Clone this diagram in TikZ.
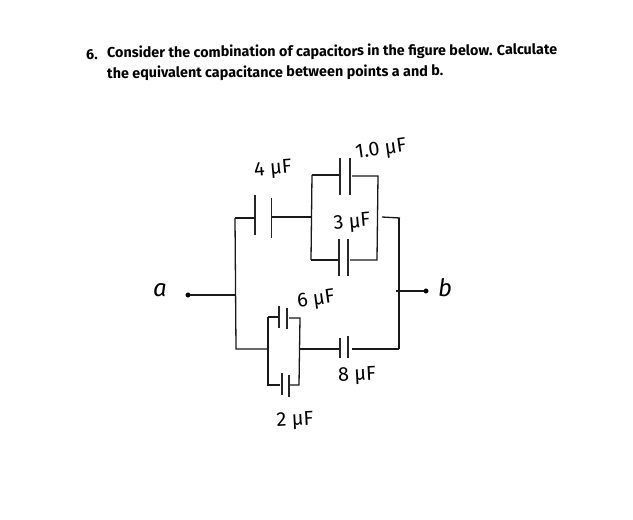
\documentclass[tikz,border=0pt]{standalone}
\usepackage{fontspec}
\setmainfont{Fira Sans}
\tikzset{
  wire/.style={line width=1.3pt, black!90},
  plate/.style={line width=1.3pt, black!85},
  terminal/.style={circle, draw, fill=black, inner sep=0pt, minimum size=4.5pt},
  question/.style={anchor=west, inner sep=0pt, rotate=0.4, font=\fontsize{14.35}{17}\selectfont\bfseries},
  capvalue/.style={inner sep=0pt, font=\fontsize{20}{22}\selectfont},
  endlabel/.style={inner sep=0pt, font=\fontsize{24}{26}\selectfont\itshape}
}
\begin{document}
\begin{tikzpicture}[x=1pt, y=-1pt]
  \useasboundingbox (0,0) rectangle (633,520);

  % problem text
  \node[question] (qnum) at (86,55) {6.};
  \node[question] (qone) at (107,53.5) {Consider the combination of capacitors in the figure below. Calculate};
  \node[question] (qtwo) at (107,74) {the equivalent capacitance between points a and b.};

  % corners of the upper branch
  \coordinate (tl) at (235,218);
  \coordinate (pl) at (312,217);
  \coordinate (plt) at (312,175);
  \coordinate (plb) at (311,260);
  \coordinate (prt) at (378,176);
  \coordinate (prb) at (377,260);
  \coordinate (pr) at (379,217);
  \coordinate (tr) at (400,218);
  \coordinate (trd) at (399,218);

  % corners of the lower branch
  \coordinate (al) at (236,295);
  \coordinate (bl) at (236,349);
  \coordinate (ql) at (268,349);
  \coordinate (qlt) at (268,317);
  \coordinate (qlb) at (268,385);
  \coordinate (qrt) at (300,318);
  \coordinate (qrb) at (299,385);
  \coordinate (qr) at (299,349);
  \coordinate (br) at (399,349);
  \coordinate (ar) at (396,291);

  \node[terminal] (a) at (188,295) {};
  \node[terminal] (b) at (426,291) {};

  % wires
  \draw[wire] (a) -- (al);
  \draw[wire] (tl) -- (bl) -- (ql);
  \draw[wire] (tl) -- (255,218);
  \draw[wire] (271,217) -- (pl);
  \draw[wire] (plt) -- (plb);
  \draw[wire] (plt) -- (340,175);
  \draw[wire] (352,176) -- (prt) -- (prb) -- (350,260);
  \draw[wire] (plb) -- (339,260);
  \draw[wire] (pr) ++(3,0) -- (tr);
  \draw[wire] (trd) -- (br);
  \draw[wire] (ar) -- (b);
  \draw[wire] (qlt) -- (qlb) -- (280,385);
  \draw[wire] (qlt) -- (279,317);
  \draw[wire] (289,318) -- (qrt) -- (qrb) -- (289,385);
  \draw[wire] (qr) -- (340,349);
  \draw[wire] (352,349) -- (br);

  % capacitor plates
  \foreach \x/\ytop/\ybot in {255/195/235, 271.5/198/238, 340/158/195, 350/158/195, 339/239/276, 348/239/276,
      279/306/328, 287/308/329, 282/373/395, 289/375/397, 340/338/358, 348/336/358}{
    \draw[plate] (\x,\ytop) -- (\x,\ybot);
  }

  % labels
  \node[capvalue, rotate=5] (cfour) at (273,170) {4 µF};
  \node[capvalue, rotate=8] (cone) at (381,150) {1.0 µF};
  \node[capvalue, rotate=5] (cthree) at (352,223) {3 µF};
  \node[capvalue, rotate=8] (csix) at (316,300) {6 µF};
  \node[capvalue, rotate=3] (ceight) at (357,376) {8 µF};
  \node[capvalue, rotate=3] (ctwo) at (295,421) {2 µF};
  \node[endlabel] (alabel) at (160,290) {a};
  \node[endlabel] (blabel) at (445,288) {b};
\end{tikzpicture}
\end{document}
